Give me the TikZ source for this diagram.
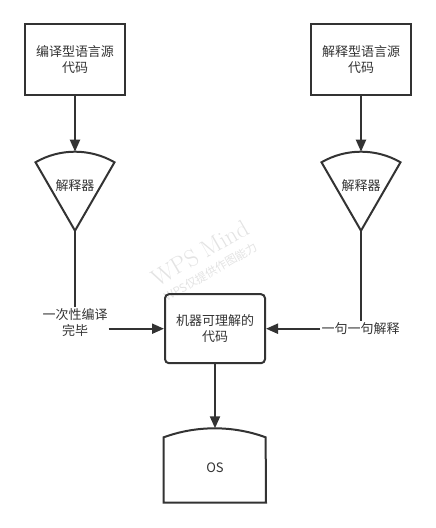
\documentclass[tikz,border=0pt]{standalone}
\usepackage{fontspec}
\newfontfamily\cjk{Noto Sans CJK SC}
\usetikzlibrary{arrows.meta}
\definecolor{ink}{HTML}{333333}
\tikzset{
  lbl/.style={font=\cjk\fontsize{13}{16.5}\selectfont, text=ink, align=center, inner sep=1pt},
  srcbox/.style={draw=ink, line width=2pt, minimum width=100pt, minimum height=71pt, lbl},
  codebox/.style={draw=ink, line width=2pt, rounded corners=4pt, minimum width=100pt, minimum height=69pt, lbl},
  shp/.style={draw=ink, line width=2pt, line join=miter},
  link/.style={draw=ink, line width=2pt},
  arr/.style={link, -{Triangle[length=12pt,width=10pt]}},
  wm/.style={text=black!11, rotate=30, inner sep=0pt}
}
\begin{document}
\begin{tikzpicture}[x=1pt,y=1pt]
\useasboundingbox (0,0) rectangle (436,528);
% watermark
\node[wm, font=\fontsize{24}{24}\selectfont] (wm1) at (200,275) {WPS Mind};
\node[wm, font=\cjk\fontsize{11.5}{12}\selectfont] (wm2) at (211,256) {WPS仅提供作图能力};
% source boxes
\node[srcbox] (src1) at (75,468.5) {编译型语言源\\代码};
\node[srcbox] (src2) at (361,468.5) {解释型语言源\\代码};
% fans (sectors)
\coordinate (ap1) at (75,297.3);
\coordinate (ap2) at (361,297.3);
\draw[shp] (ap1) -- ++(120:79) arc[start angle=120, end angle=60, radius=79] -- cycle;
\draw[shp] (ap2) -- ++(120:79) arc[start angle=120, end angle=60, radius=79] -- cycle;
\coordinate (top1) at (75,376.3);
\coordinate (top2) at (361,376.3);
\node[lbl] (int1) at (75,342.3) {解释器};
\node[lbl] (int2) at (361,342.3) {解释器};
% center box
\node[codebox] (code) at (215,199.3) {机器可理解的\\代码};
% labels
\node[lbl, anchor=north] (l1) at (75,220.7) {一次性编译\\完毕};
\node[lbl] (l2) at (360.5,199.3) {一句一句解释};
% OS shape
\coordinate (ostop) at (215,99.7);
\draw[shp] (163.7,25.3) -- (163.7,90.7) arc[start angle=110, end angle=70, radius=149] -- (266,25.3) -- cycle;
\node[lbl] (os) at (215,60.7) {OS};
% connectors
\draw[arr] (src1.south) -- (top1);
\draw[arr] (src2.south) -- (top2);
\draw[link] (ap1) -- (l1.north);
\draw[link] (ap2) -- (l2.north -| ap2);
\draw[arr] (l1.east |- code.west) -- (code.west);
\draw[arr] (l2.west) -- (code.east);
\draw[arr] (code.south) -- (ostop);
\end{tikzpicture}
\end{document}
